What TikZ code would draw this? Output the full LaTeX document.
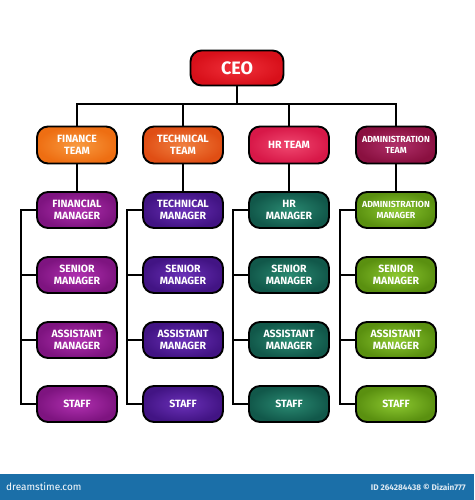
\documentclass[tikz,border=0pt]{standalone}
\usepackage{fontspec}
\setmainfont{Fira Sans}
\definecolor{ceoc}{HTML}{D8101A}
\definecolor{ceol}{HTML}{F0303A}
\definecolor{finT}{HTML}{EE6E12}
\definecolor{finTl}{HTML}{F89A40}
\definecolor{tecT}{HTML}{E04E14}
\definecolor{tecTl}{HTML}{F08040}
\definecolor{hrT}{HTML}{D81848}
\definecolor{hrTl}{HTML}{F04870}
\definecolor{admT}{HTML}{8A1040}
\definecolor{admTl}{HTML}{B0306A}
\definecolor{finC}{HTML}{7E1480}
\definecolor{finCl}{HTML}{B030B0}
\definecolor{tecC}{HTML}{421484}
\definecolor{tecCl}{HTML}{6A30B8}
\definecolor{hrC}{HTML}{11584A}
\definecolor{hrCl}{HTML}{2A8A72}
\definecolor{admC}{HTML}{5A9010}
\definecolor{admCl}{HTML}{8CC830}
\definecolor{banner}{HTML}{1B6FA8}
\begin{document}
\begin{tikzpicture}[x=1pt,y=-1pt,
  box/.style={draw=black, line width=1.9pt, rounded corners=11pt,
    minimum width=80pt, minimum height=36pt, inner sep=1pt,
    text=white, align=center, font=\bfseries\fontsize{10.5}{11.5}\selectfont},
  small/.style={font=\bfseries\fontsize{8.8}{11.5}\selectfont},
  fill2/.style 2 args={shading=radial, inner color=#2, outer color=#1},
  conn/.style={draw=black, line width=1.6pt}]
\useasboundingbox (0,0) rectangle (474,500);
\fill[white] (0,0) rectangle (474,474);

% CEO
\node[box, fill2={ceoc}{ceol}, minimum width=93pt, minimum height=35pt,
  font=\bfseries\fontsize{18}{20}\selectfont] (ceo) at (237,68) {CEO};

% teams
\node[box, fill2={finT}{finTl}, minimum height=37pt] (fin) at (77,145) {FINANCE\\TEAM};
\node[box, fill2={tecT}{tecTl}, minimum height=37pt] (tec) at (183,145) {TECHNICAL\\TEAM};
\node[box, fill2={hrT}{hrTl}, minimum height=37pt] (hr) at (289,145) {HR TEAM};
\node[box, fill2={admT}{admTl}, minimum height=37pt, small] (adm) at (396,145) {ADMINISTRATION\\TEAM};

% Finance column
\node[box, fill2={finC}{finCl}] (f1) at (77,210) {FINANCIAL\\MANAGER};
\node[box, fill2={finC}{finCl}] (f2) at (77,275) {SENIOR\\MANAGER};
\node[box, fill2={finC}{finCl}] (f3) at (77,340) {ASSISTANT\\MANAGER};
\node[box, fill2={finC}{finCl}] (f4) at (77,404) {STAFF};
% Technical column
\node[box, fill2={tecC}{tecCl}] (t1) at (183,210) {TECHNICAL\\MANAGER};
\node[box, fill2={tecC}{tecCl}] (t2) at (183,275) {SENIOR\\MANAGER};
\node[box, fill2={tecC}{tecCl}] (t3) at (183,340) {ASSISTANT\\MANAGER};
\node[box, fill2={tecC}{tecCl}] (t4) at (183,404) {STAFF};
% HR column
\node[box, fill2={hrC}{hrCl}] (h1) at (289,210) {HR\\MANAGER};
\node[box, fill2={hrC}{hrCl}] (h2) at (289,275) {SENIOR\\MANAGER};
\node[box, fill2={hrC}{hrCl}] (h3) at (289,340) {ASSISTANT\\MANAGER};
\node[box, fill2={hrC}{hrCl}] (h4) at (289,404) {STAFF};
% Admin column
\node[box, fill2={admC}{admCl}, small] (a1) at (396,210) {ADMINISTRATION\\MANAGER};
\node[box, fill2={admC}{admCl}] (a2) at (396,275) {SENIOR\\MANAGER};
\node[box, fill2={admC}{admCl}] (a3) at (396,340) {ASSISTANT\\MANAGER};
\node[box, fill2={admC}{admCl}] (a4) at (396,404) {STAFF};

% connectors
\coordinate (bus) at (237,104);
\draw[conn] (ceo.south) -- (bus);
\draw[conn] (fin.north) |- (bus) -| (adm.north);
\draw[conn] (tec.north) -- (tec.north |- bus);
\draw[conn] (hr.north) -- (hr.north |- bus);

\foreach \t/\c in {fin/f, tec/t, hr/h, adm/a}{
  \draw[conn] (\t.south) -- (\c1.north);
  \draw[conn] (\c1.west) -- ++(-15,0) |- (\c4.west);
  \draw[conn] (\c2.west) -- ++(-15,0);
  \draw[conn] (\c3.west) -- ++(-15,0);
}

% banner
\fill[banner] (0,474) rectangle (474,500);
\node[anchor=west, text=white, font=\fontsize{10}{12}\selectfont, inner sep=0pt] (ds) at (6,487) {dreamstime.com};
\node[anchor=east, text=white!85!banner, font=\bfseries\fontsize{8.2}{9}\selectfont, inner sep=0pt] (id) at (466,487) {ID 264284438 © Dizain777};
\end{tikzpicture}
\end{document}
